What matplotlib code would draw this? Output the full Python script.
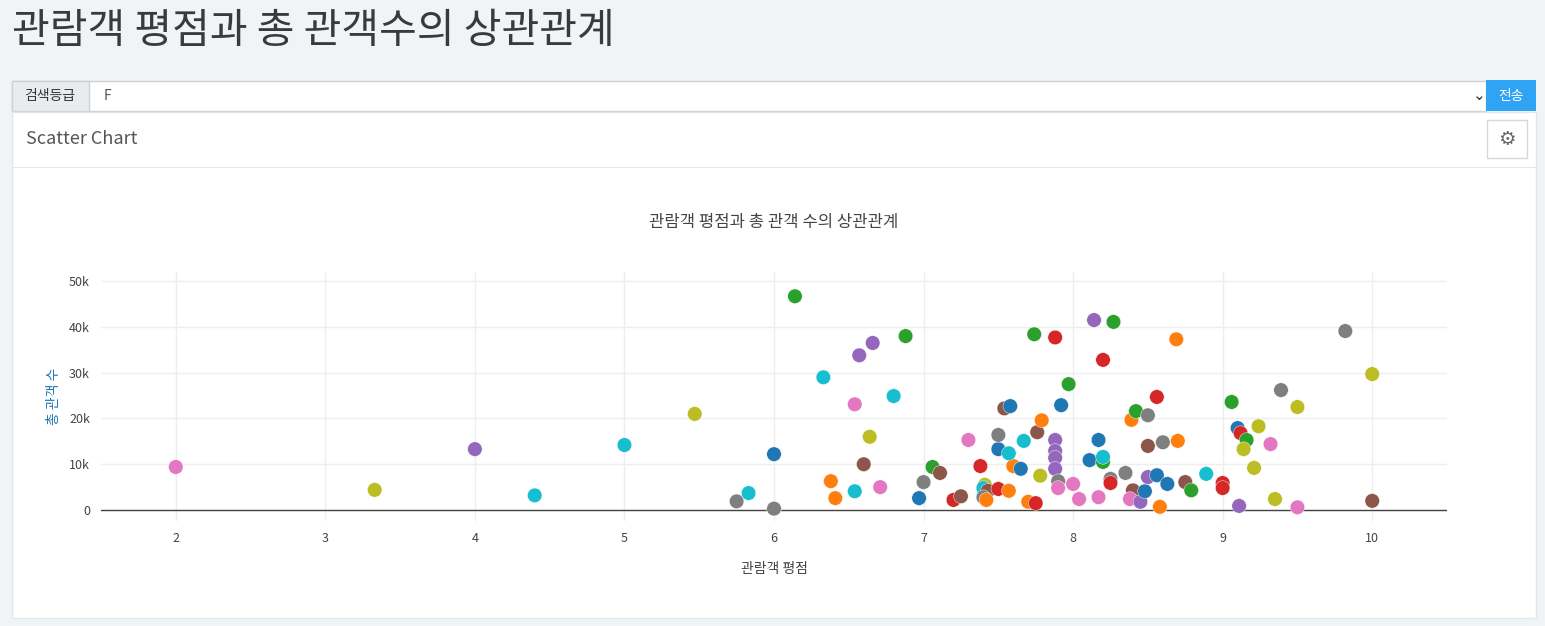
import matplotlib
matplotlib.use("Agg")
import matplotlib.pyplot as plt
from matplotlib.patches import Rectangle
from matplotlib.ticker import FuncFormatter

plt.rcParams['font.family'] = ['Noto Sans CJK KR', 'DejaVu Sans']

pts = [
 (2.0,9.4,'pink'),(3.33,4.4,'olive'),(4.0,13.3,'purple'),(4.4,3.2,'cyan'),(5.0,14.2,'cyan'),
 (5.47,21,'olive'),(5.75,1.9,'gray'),(5.83,3.7,'cyan'),(6.0,12.2,'blue'),(6.0,0.3,'gray'),
 (6.14,46.7,'green'),(6.33,29,'cyan'),(6.38,6.3,'orange'),(6.41,2.6,'orange'),(6.54,4.1,'cyan'),
 (6.54,23.1,'pink'),(6.57,33.8,'purple'),(6.6,10,'brown'),(6.64,16,'olive'),(6.66,36.5,'purple'),
 (6.71,5,'pink'),(6.8,24.9,'cyan'),(6.88,38,'green'),(6.97,2.6,'blue'),(7.0,6.1,'gray'),
 (7.06,9.4,'green'),(7.11,8.1,'brown'),(7.2,2.2,'red'),(7.25,3,'brown'),(7.3,15.3,'pink'),
 (7.38,9.6,'red'),(7.41,5.5,'olive'),(7.4,4.8,'cyan'),(7.43,4.2,'brown'),(7.4,2.8,'gray'),
 (7.42,2.2,'orange'),(7.5,4.6,'red'),(7.5,13.3,'blue'),(7.5,16.4,'gray'),(7.54,22.2,'brown'),
 (7.58,22.7,'blue'),(7.6,9.6,'orange'),(7.65,9,'blue'),(7.57,4.2,'orange'),(7.57,12.4,'cyan'),
 (7.67,15.1,'cyan'),(7.78,7.5,'olive'),(7.76,17,'brown'),(7.79,19.6,'orange'),(7.7,1.8,'orange'),
 (7.75,1.5,'red'),(7.74,38.4,'green'),(7.88,37.7,'red'),(7.88,15.3,'purple'),(7.88,12.9,'purple'),
 (7.88,11.4,'purple'),(7.88,9,'purple'),(7.9,6.3,'gray'),(7.9,4.8,'pink'),(7.92,22.9,'blue'),
 (7.97,27.5,'green'),(8.0,5.7,'pink'),(8.04,2.4,'pink'),(8.14,41.5,'purple'),(8.27,41.1,'green'),
 (8.2,32.8,'red'),(8.11,10.9,'blue'),(8.17,15.3,'blue'),(8.2,10.5,'green'),(8.2,11.6,'cyan'),
 (8.25,6.8,'gray'),(8.25,5.9,'red'),(8.17,2.8,'pink'),(8.35,8.1,'gray'),(8.39,19.7,'orange'),
 (8.42,21.6,'green'),(8.5,20.7,'gray'),(8.56,24.7,'red'),(8.5,14,'brown'),(8.6,14.8,'gray'),
 (8.7,15.1,'orange'),(8.4,4.3,'brown'),(8.38,2.4,'pink'),(8.45,1.8,'purple'),(8.48,4.1,'blue'),
 (8.5,7.2,'purple'),(8.56,7.6,'blue'),(8.58,0.7,'orange'),(8.63,5.7,'blue'),(8.75,6.1,'brown'),
 (8.79,4.3,'green'),(8.69,37.3,'orange'),(8.89,7.9,'cyan'),(9.0,5.9,'red'),(9.0,4.8,'red'),
 (9.06,23.6,'green'),(9.1,17.9,'blue'),(9.12,16.8,'red'),(9.16,15.3,'green'),(9.14,13.3,'olive'),
 (9.24,18.3,'olive'),(9.21,9.2,'olive'),(9.11,0.9,'purple'),(9.32,14.4,'pink'),(9.35,2.4,'olive'),
 (9.39,26.2,'gray'),(9.5,22.5,'olive'),(9.5,0.6,'pink'),(9.82,39.1,'gray'),(10.0,29.7,'olive'),
 (10.0,2,'brown'),
]
rating = [p[0] for p in pts]
audience_k = [p[1] for p in pts]
color_names = [p[2] for p in pts]
palette = {'blue':'#1f77b4','orange':'#ff7f0e','green':'#2ca02c','red':'#d62728','purple':'#9467bd',
           'brown':'#8c564b','pink':'#e377c2','gray':'#7f7f7f','olive':'#bcbd22','cyan':'#17becf'}
xticks = [2,3,4,5,6,7,8,9,10]
yticks = [0,10,20,30,40,50]

W, H = 1545, 626
fig = plt.figure(figsize=(W/100, H/100), dpi=100)
fig.patch.set_facecolor('#f1f4f7')

def rect(x, y, w, h, fc, ec='none', lw=1):
    fig.patches.append(Rectangle((x/W, 1-(y+h)/H), w/W, h/H, transform=fig.transFigure,
                                 facecolor=fc, edgecolor=ec, linewidth=lw, zorder=0))

fig.text(12/W, 1-32/H, '관람객 평점과 총 관객수의 상관관계', fontsize=29.5, color='#3a3a3a', va='center', fontweight='light')
rect(12, 81, 1474, 30, 'white', '#ccd1d6')
rect(12, 81, 77, 30, '#e9ecef', '#ccd1d6')
fig.text(50/W, 1-96/H, '검색등급', fontsize=10, ha='center', va='center', color='#333')
fig.text(104/W, 1-96/H, 'F', fontsize=10, va='center', color='#555')
fig.text(1479/W, 1-96/H, '⌄', fontsize=11, va='center', ha='center', color='#333', family='DejaVu Sans')
rect(1486, 80, 50, 31, '#2fa4f5')
fig.text(1511/W, 1-96/H, '전송', fontsize=10, ha='center', va='center', color='white')
rect(12, 112, 1524, 506, 'white', '#e4e7ea')
rect(12, 167, 1524, 1, '#e4e7ea')
fig.text(26/W, 1-139/H, 'Scatter Chart', fontsize=13, va='center', color='#555', fontweight='light')
rect(1487, 120, 40, 38, 'white', '#d6d9dc')
fig.text(1507/W, 1-139/H, '⚙', fontsize=14, ha='center', va='center', color='#666', family='DejaVu Sans')

ax = fig.add_axes([101/W, 1-521/H, (1447-101)/W, (521-272)/H])
ax.set_zorder(5)
ax.patch.set_alpha(0)
ax.scatter(rating, audience_k, s=110, c=[palette[n] for n in color_names], zorder=3, linewidths=0.3, edgecolors='white')
ax.set_xlim(1.5, 10.5)
ax.set_ylim(-2.4, 52)
ax.set_xticks(xticks)
ax.set_yticks(yticks)
ax.yaxis.set_major_formatter(FuncFormatter(lambda v, p: '0' if v == 0 else f'{int(v)}k'))
ax.grid(True, color='#eeeeee', linewidth=1, zorder=0)
ax.axhline(0, color='#444', linewidth=1, zorder=2)
for s in ax.spines.values():
    s.set_visible(False)
ax.tick_params(length=0, labelsize=9, colors='#444', pad=8)
ax.set_xlabel('관람객 평점', fontsize=10, color='#444', labelpad=12)
ax.set_ylabel('총 관객 수', fontsize=10, color='#1f77b4', labelpad=6)
fig.text(774/W, 1-223/H, '관람객 평점과 총 관객 수의 상관관계', fontsize=12, ha='center', va='center', color='#444')

fig.savefig('out.png', dpi=100, facecolor=fig.get_facecolor())
